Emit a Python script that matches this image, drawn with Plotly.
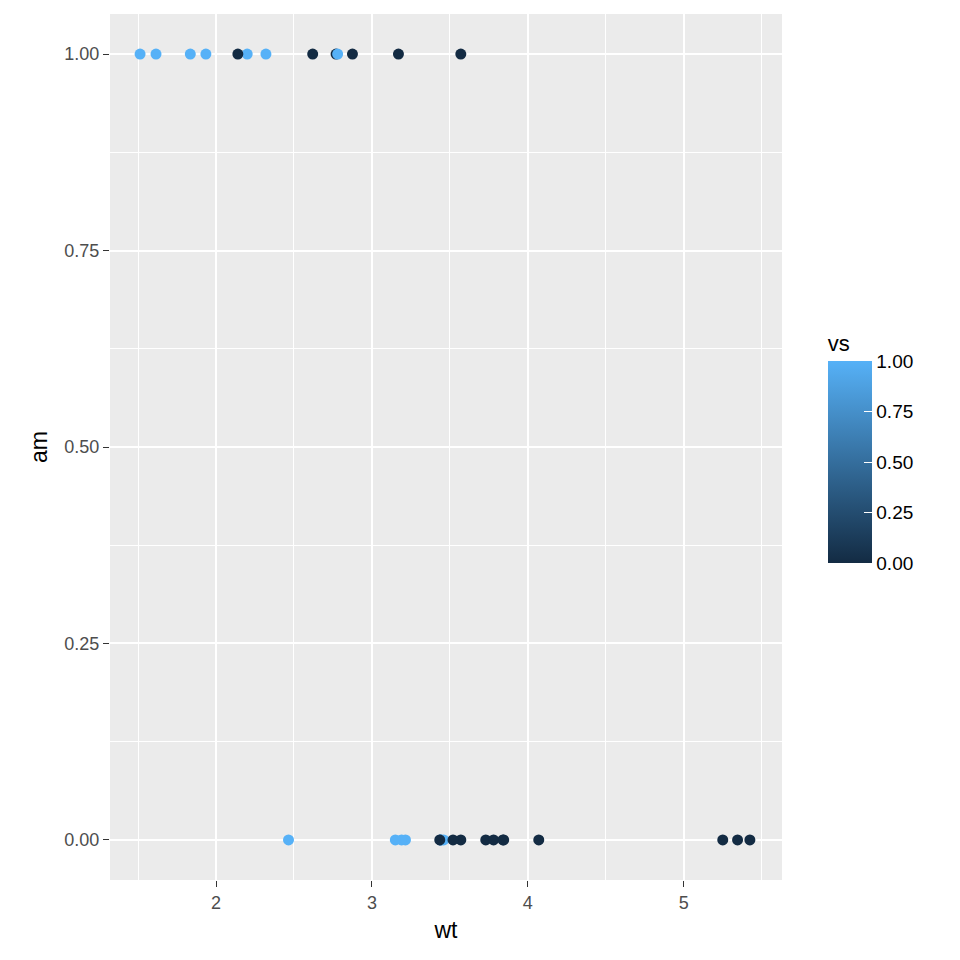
import plotly.graph_objects as go

wt = [2.620,2.875,2.320,3.215,3.440,3.460,3.570,3.190,3.150,3.440,3.440,4.070,3.730,3.780,5.250,5.424,5.345,2.200,1.615,1.835,2.465,3.520,3.435,3.840,3.845,1.935,2.140,1.513,3.170,2.770,3.570,2.780]
am = [1,1,1,0,0,0,0,0,0,0,0,0,0,0,0,0,0,1,1,1,0,0,0,0,0,1,1,1,1,1,1,1]
vs = [0,0,1,1,0,1,0,1,1,1,1,0,0,0,0,0,0,1,1,1,1,0,0,0,0,1,0,1,0,0,0,1]

fig = go.Figure(go.Scatter(
    x=wt, y=am, mode="markers",
    marker=dict(size=11, color=vs, cmin=0, cmax=1,
                colorscale=[[0, "#132B43"], [1, "#56B1F7"]],
                colorbar=dict(title=dict(text="vs", side="top", font=dict(size=22, color="black")),
                              tickvals=[0, 0.25, 0.5, 0.75, 1],
                              ticktext=["0.00", "0.25", "0.50", "0.75", "1.00"],
                              tickfont=dict(size=19, color="black"),
                              thickness=44, len=232/866, lenmode="fraction", ypad=0, xpad=0,
                              x=1.068, xanchor="left", y=0.5, yanchor="middle",
                              outlinewidth=0, ticks="inside", tickcolor="white", ticklen=8)),
    showlegend=False))

grid = dict(gridcolor="white", gridwidth=2.2, zeroline=False, showline=False,
            ticks="outside", ticklen=6, tickcolor="#333333",
            tickfont=dict(size=18, color="#4d4d4d"),
            minor=dict(showgrid=True, gridcolor="white", gridwidth=1))
fig.update_layout(
    width=960, height=960, plot_bgcolor="#EBEBEB", paper_bgcolor="white",
    margin=dict(l=102, r=186, t=6, b=88),
    font=dict(family="Liberation Sans, Arial"),
    xaxis=dict(range=[1.32, 5.63], tickvals=[2, 3, 4, 5], minor_tickvals=[1.5, 2.5, 3.5, 4.5, 5.5],
               title=dict(text="wt", font=dict(size=23, color="black"), standoff=10), **grid),
    yaxis=dict(range=[-0.051, 1.051], tickvals=[0, 0.25, 0.5, 0.75, 1],
               ticktext=["0.00", "0.25", "0.50", "0.75", "1.00"],
               minor_tickvals=[0.125, 0.375, 0.625, 0.875],
               title=dict(text="am", font=dict(size=23, color="black"), standoff=10), **grid),
)
fig.write_html("out.html")
